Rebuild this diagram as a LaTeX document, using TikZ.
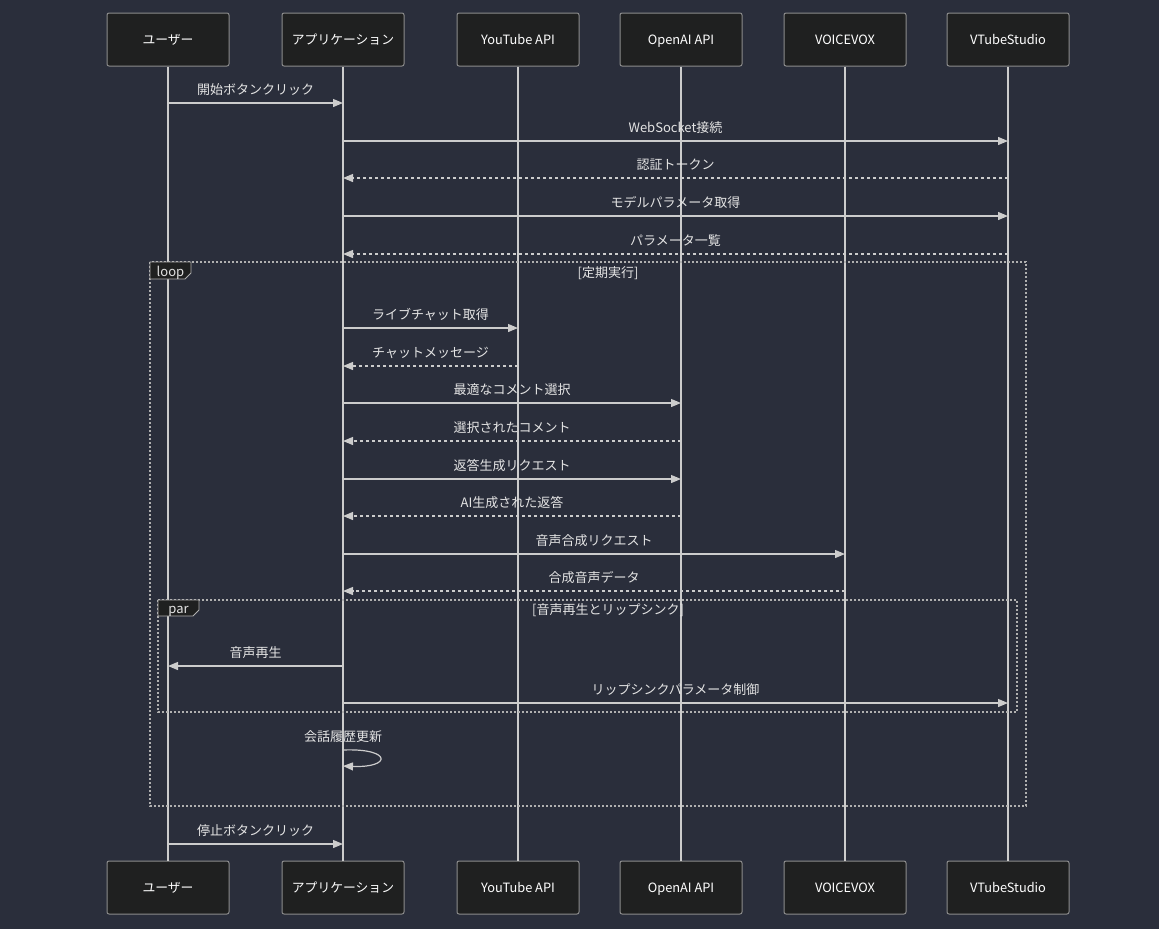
\documentclass[tikz,border=0pt]{standalone}
\usepackage{fontspec}
\setmainfont{Noto Sans CJK JP}
\usetikzlibrary{arrows.meta}
\definecolor{bg}{HTML}{2A2E3B}
\definecolor{boxfill}{HTML}{1F2020}
\definecolor{boxline}{HTML}{8C8C8C}
\definecolor{ln}{HTML}{CCCCCC}
\definecolor{txt}{HTML}{E4E4E4}
\definecolor{frm}{HTML}{B0B0B0}
\tikzset{
  actor/.style={draw=boxline, fill=boxfill, line width=1pt, rounded corners=2pt,
    minimum width=122pt, minimum height=53pt, text=white, font=\fontsize{12.8}{14}\selectfont, inner sep=0,
    text height=10pt, text depth=0pt},
  life/.style={draw=ln, line width=1.2pt},
  msg/.style={draw=ln, line width=1.2pt, -{Triangle[length=10pt,width=8pt]}},
  rmsg/.style={msg, dash pattern=on 3pt off 3pt},
  lbl/.style={text=txt, font=\fontsize{13}{14}\selectfont, inner sep=0, text height=10pt, text depth=0pt},
  frame/.style={draw=frm, line width=1.5pt, dash pattern=on 2pt off 2pt},
  tab/.style={draw=frm, fill=boxfill, line width=0.8pt},
}
\begin{document}
\begin{tikzpicture}[x=1pt,y=-1pt]
\fill[bg] (0,0) rectangle (1159,929);
\useasboundingbox (0,0) rectangle (1159,929);
% participants top
\foreach \n/\x/\t in {U/168/ユーザー, A/343/アプリケーション, Y/518/YouTube API, O/681/OpenAI API, X/845/VOICEVOX, V/1008/VTubeStudio}{
  \node[actor] (\n) at (\x,39.5) {\t};
  \node[actor] (\n b) at (\x,887.5) {\t};
  \draw[life] (\n.south) -- (\n b.north);
}
% frames
\draw[frame] (150,262) rectangle (1026,806);
\draw[tab] (150,262) -- (191,262) -- (191,273) -- (185,279) -- (150,279) -- cycle;
\node[lbl] (looplbl) at (170.5,271) {loop};
\node[lbl] (loopcond) at (608,272) {[定期実行]};
\draw[frame] (158,600) rectangle (1017,712);
\draw[tab] (158,600) -- (199,600) -- (199,610) -- (193,616) -- (158,616) -- cycle;
\node[lbl] (parlbl) at (178.5,608.5) {par};
\node[lbl] (parcond) at (608,609) {[音声再生とリップシンク]};
% messages
\foreach \a/\b/\y/\st/\t in {
  U/A/103/msg/開始ボタンクリック,
  A/V/141/msg/WebSocket接続,
  V/A/178/rmsg/認証トークン,
  A/V/216/msg/モデルパラメータ取得,
  V/A/254/rmsg/パラメータ一覧,
  A/Y/328/msg/ライブチャット取得,
  Y/A/366/rmsg/チャットメッセージ,
  A/O/403/msg/最適なコメント選択,
  O/A/441/rmsg/選択されたコメント,
  A/O/479/msg/返答生成リクエスト,
  O/A/516/rmsg/AI生成された返答,
  A/X/554/msg/音声合成リクエスト,
  X/A/591/rmsg/合成音声データ,
  A/U/666/msg/音声再生,
  A/V/703/msg/リップシンクパラメータ制御,
  U/A/844/msg/停止ボタンクリック}{
  \draw[\st] (\a.south |- 0,\y) -- (\b.south |- 0,\y)
    node[lbl, midway, yshift=13.5pt] {\t};
}
% self message
\node[lbl] (selflbl) at (343,736) {会話履歴更新};
\draw[msg] (A.south |- 0,750) .. controls (392,748) and (392,768) .. (A.south |- 0,766);
\end{tikzpicture}
\end{document}
